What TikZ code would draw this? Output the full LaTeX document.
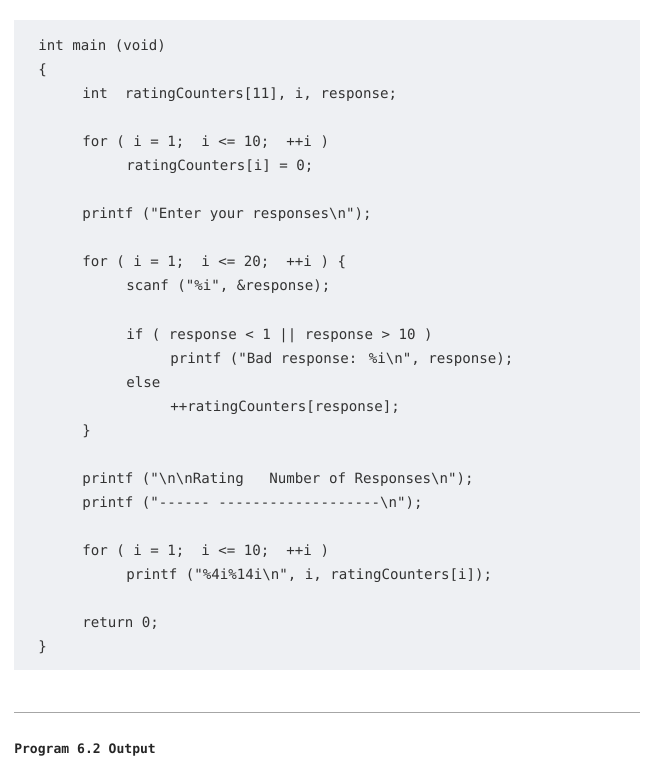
\documentclass[tikz,border=0pt]{standalone}
\usepackage{fontspec}
\newfontfamily\code{DejaVu Sans Mono}[Scale=1]
\definecolor{bg}{HTML}{EEF0F3}
\definecolor{txt}{HTML}{333333}
\begin{document}
\begin{tikzpicture}[x=0.75pt,y=-0.75pt,
  cl/.style={anchor=base west,inner sep=0pt,font=\code\fontsize{10.6pt}{12pt}\selectfont,text=txt}]
\useasboundingbox (0,0) rectangle (671,762);
\fill[bg] (14,20) rectangle (640,670);
\node[cl] (l1) at (38,51) {int main (void)};
\node[cl] (l2) at (38,75) {\{};
\node[cl] (l3) at (82,99) {int\ \ ratingCounters[11], i, response;};
\node[cl] (l4) at (82,147) {for ( i = 1;\ \ i <= 10;\ \ ++i )};
\node[cl] (l5) at (126,171) {ratingCounters[i] = 0;};
\node[cl] (l6) at (82,219) {printf ("Enter your responses\textbackslash n");};
\node[cl] (l7) at (82,267) {for ( i = 1;\ \ i <= 20;\ \ ++i ) \{};
\node[cl] (l8) at (126,291) {scanf ("\%i", \&response);};
\node[cl] (l9) at (126,339) {if ( response < 1 || response > 10 )};
\node[cl] (l10) at (170,363) {printf ("Bad response: \%i\textbackslash n", response);};
\node[cl] (l11) at (126,387) {else};
\node[cl] (l12) at (170,411) {++ratingCounters[response];};
\node[cl] (l13) at (82,435) {\}};
\node[cl] (l14) at (82,483) {printf ("\textbackslash n\textbackslash nRating\ \ \ Number of Responses\textbackslash n");};
\node[cl] (l15) at (82,507) {printf ("------ -------------------\textbackslash n");};
\node[cl] (l16) at (82,555) {for ( i = 1;\ \ i <= 10;\ \ ++i )};
\node[cl] (l17) at (126,579) {printf ("\%4i\%14i\textbackslash n", i, ratingCounters[i]);};
\node[cl] (l18) at (82,627) {return 0;};
\node[cl] (l19) at (38,651) {\}};
\draw[gray!70,line width=0.75pt] (14,712) -- (640,712);
\node[cl,font=\code\bfseries\fontsize{9.8pt}{12pt}\selectfont,text=black!85] (cap) at (14,753) {Program 6.2 Output};
\end{tikzpicture}
\end{document}
